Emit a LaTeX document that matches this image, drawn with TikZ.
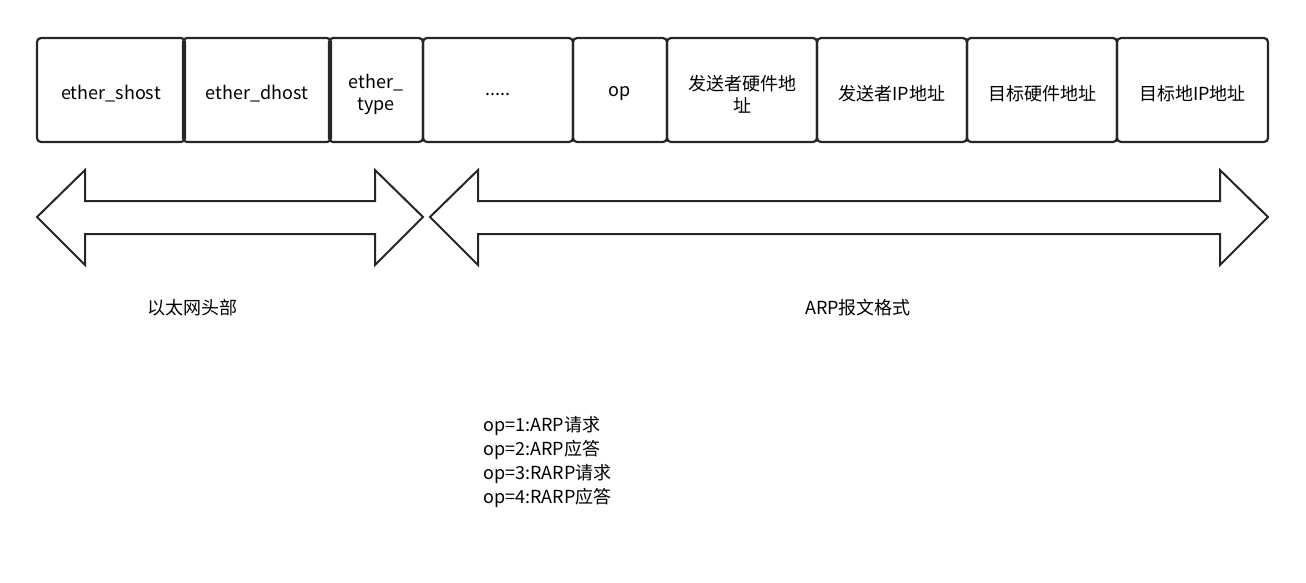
\documentclass[tikz,border=0pt]{standalone}
\usepackage{fontspec}
\setmainfont{Noto Sans CJK SC}
\begin{document}
\begin{tikzpicture}[x=1pt,y=-1pt,
  fld/.style={draw=black!85,line width=2.2pt,rounded corners=4pt},
  lbl/.style={font=\fontsize{18}{22}\selectfont,align=center,text width=#1},
  dbl/.style={draw=black!85,line width=2pt,fill=white,line join=miter}]
\useasboundingbox (0,0) rectangle (1306,582);
\foreach \a/\b/\n/\t in {37/185/f1/{ether\_shost},183/331/f2/{ether\_dhost},329/423/f3/{ether\_\\type},423/573/f4/{\char`.\char`.\char`.\char`.\char`.},573/667/f5/{op},667/817/f6/{发送者硬件地\\址},817/967/f7/{发送者IP地址},967/1117/f8/{目标硬件地址},1117/1268/f9/{目标地IP地址}}{
  \draw[fld] (\a,38) rectangle (\b,142);
  \node[lbl=\b pt-\a pt-6pt] (\n) at ({(\a+\b)/2},94) {\t};
}
\draw[dbl] (37,217) coordinate (l1) -- (85,170) -- (85,201) -- (375,201) -- (375,170) -- (423,217) coordinate (l2) -- (375,265) -- (375,234) -- (85,234) -- (85,265) -- cycle;
\draw[dbl] (430,217) coordinate (r1) -- (478,170) -- (478,201) -- (1220,201) -- (1220,170) -- (1268,217) coordinate (r2) -- (1220,265) -- (1220,234) -- (478,234) -- (478,265) -- cycle;
\node[font=\fontsize{18}{22}\selectfont] (eth) at (192,308) {以太网头部};
\node[font=\fontsize{18}{22}\selectfont] (arp) at (858,308) {ARP报文格式};
\node[font=\fontsize{18}{24}\selectfont,align=left,anchor=north west,inner sep=0pt] (ops) at (483,416) {op=1:ARP请求\\op=2:ARP应答\\op=3:RARP请求\\op=4:RARP应答};
\end{tikzpicture}
\end{document}
